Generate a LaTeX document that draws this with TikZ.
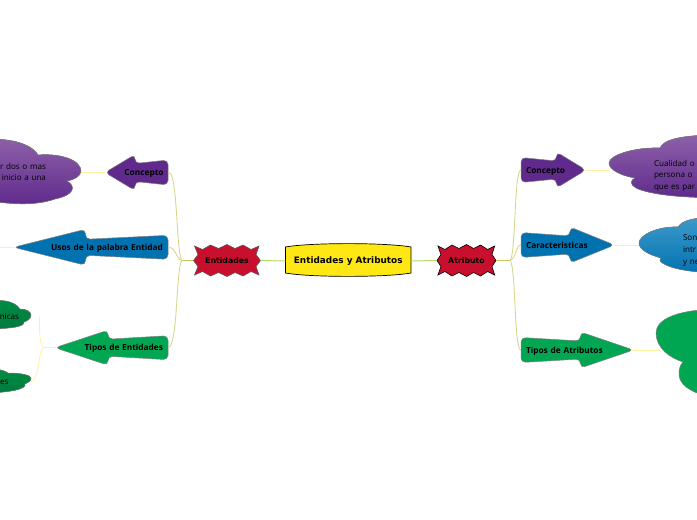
\documentclass[tikz,border=0pt]{standalone}
\usepackage{fontspec}
\setmainfont{Open Sans}
\newfontfamily\starfont{DejaVu Sans}
\definecolor{moradoA}{HTML}{5F2A8C}
\definecolor{moradoB}{HTML}{8E62AA}
\definecolor{azulA}{HTML}{0072B0}
\definecolor{azulB}{HTML}{3F9BCB}
\definecolor{verdeA}{HTML}{00A651}
\definecolor{verdeB}{HTML}{007A3D}
\definecolor{rojoA}{HTML}{C8102E}
\definecolor{amarilloA}{HTML}{FFE714}
\definecolor{lineaA}{HTML}{B5D96A}
\definecolor{lineaB}{HTML}{C9C765}
\definecolor{lineaC}{HTML}{D8D78F}
\definecolor{lineaD}{HTML}{FFF0A0}
\newcommand{\lowered}[1]{\raisebox{-3pt}[0pt][0pt]{#1}}
\tikzset{
  every node/.style={inner ysep=0pt},
  arrowtag/.style={font=\bfseries\fontsize{8.3}{10}\selectfont, inner xsep=5pt, text=black},
  cloudtag/.style={font=\fontsize{8.1}{11.6}\selectfont, text=black},
  startag/.style={font=\starfont\bfseries\fontsize{7.8}{9}\selectfont, text=black},
  shapeline/.style={draw=black!50, line width=.5pt},
  stemlink/.style={draw=lineaB, line width=1.3pt},
  twiglink/.style={draw=lineaC, line width=.9pt},
  leaflink/.style={draw=lineaD, line width=1pt}
}
\newcommand{\arrowshape}[8]{
  \filldraw[shapeline, fill=#1, rounded corners=4.5pt]
    (#4,#5) -- (#3,#5-#8) -- (#3,#5-#7) -- (#2,#5-#6) -- (#2,#5+#6)
    -- (#3,#5+#7) -- (#3,#5+#8) -- cycle;
}
\newcommand{\starshape}[5]{
  \filldraw[draw=#4, line width=.6pt, fill=rojoA, shift={(#1,#2)}, xscale=#3]
    (-33.5,0) -- (-29,-6) -- (-32.5,-14.5) -- (-24.5,-11) -- (-16.5,-15.5) -- (-8.5,-12)
    -- (0,-16) -- (8,-12) -- (16,-15.5) -- (24,-11) -- (32,-14.5) -- (29,-6)
    -- (33.5,0) -- (29,6) -- (32,14.5) -- (24,11) -- (16,15.5) -- (8,12)
    -- (0,16) -- (-8.5,12) -- (-16.5,15.5) -- (-24.5,11) -- (-32.5,14.5) -- (-29,6) -- cycle;
}
\begin{document}
\begin{tikzpicture}[x=1pt,y=-1pt]
  \useasboundingbox (0,0) rectangle (697,520);
  \clip (0,0) rectangle (697,520);

  \filldraw[black, line width=.7pt, fill=amarilloA]
    (285.5,247) .. controls (310,242.5) and (386,242.5) .. (411,247) -- (411,273)
    .. controls (386,277.5) and (310,277.5) .. (285.5,273) -- cycle;
  \node[startag, font=\starfont\bfseries\fontsize{8.9}{10}\selectfont, minimum width=125.5pt, minimum height=33pt] (titulo) at (348.25,261) {Entidades y Atributos};

  \starshape{227}{260.5}{1}{black!65}{}
  \node[startag, minimum width=67pt, minimum height=32pt] (entidades) at (227,260.5) {Entidades};
  \starshape{466.5}{260.5}{.88}{black}{}
  \node[startag, minimum width=59pt, minimum height=32pt] (atributo) at (466.5,260.5) {Atributo};

  \arrowshape{moradoA}{168}{135}{105}{172.5}{12.5}{9}{18}
  \node[arrowtag, text width=53pt, align=right, minimum height=30pt] (conceptoIzq) at (137,172.5) {\lowered{Concepto}};
  \arrowshape{azulA}{168}{85.5}{13.5}{247.3}{12}{8}{18}
  \node[arrowtag, text width=143.5pt, align=right, minimum height=30pt] (usos) at (91.25,247.3) {\lowered{Usos de la palabra Entidad}};
  \arrowshape{verdeA}{168}{108}{55}{347.7}{12}{8.5}{17.5}
  \node[arrowtag, text width=101.5pt, align=right, minimum height=30pt] (tiposIzq) at (112.25,347.7) {\lowered{Tipos de Entidades}};

  \arrowshape{moradoA}{521}{556.5}{586}{170}{12.5}{9}{18}
  \node[arrowtag, text width=53.5pt, align=left, minimum height=30pt] (conceptoDer) at (552.75,170) {\lowered{Concepto}};
  \arrowshape{azulA}{521}{570}{614.5}{245}{12.5}{9}{18}
  \node[arrowtag, text width=82pt, align=left, minimum height=30pt] (caract) at (567,245) {\lowered{Caracteristicas}};
  \arrowshape{verdeA}{521}{580.5}{633.5}{350}{12.5}{9}{18}
  \node[arrowtag, text width=101pt, align=left, minimum height=30pt] (tiposDer) at (576.5,350) {\lowered{Tipos de Atributos}};

  \filldraw[shapeline, top color=moradoB, bottom color=moradoA]
    (-30,141) .. controls (0,136) and (30,141) .. (38,155)
    .. controls (60,153) and (81,160) .. (81,171)
    .. controls (81,176) and (74,180) .. (67,181)
    .. controls (76,186) and (75,195) .. (55,199)
    .. controls (35,206) and (10,205) .. (-30,198) -- cycle;
  \node[cloudtag, inner xsep=35pt, text width=51pt, align=right, minimum height=62pt] (nubeConcepto) at (20.5,172) {r dos o mas\\inicio a una};

  \filldraw[shapeline, top color=moradoB, bottom color=moradoA]
    (609,163) .. controls (609,155) and (635,147) .. (660,148)
    .. controls (663,140) and (680,134) .. (730,135) -- (730,197)
    .. controls (690,199) and (650,195) .. (636,188)
    .. controls (630,185) and (630,180) .. (635,178)
    .. controls (622,176) and (609,170) .. (609,163) -- cycle;
  \node[cloudtag, inner xsep=44pt, text width=60pt, align=left, minimum height=54pt] (nubeCualidad) at (684,175.5) {Cualidad o\\persona o\\que es par};

  \filldraw[shapeline, top color=azulB, bottom color=azulA]
    (639,243) .. controls (639,235) and (658,226) .. (678,227)
    .. controls (682,221) and (690,217) .. (730,216) -- (730,272)
    .. controls (700,274) and (675,270) .. (664,264)
    .. controls (660,262) and (659,260) .. (661,258)
    .. controls (650,255) and (639,250) .. (639,243) -- cycle;
  \node[cloudtag, inner xsep=44pt, text width=60pt, align=left, minimum height=54pt] (nubeCaract) at (713,250.5) {Son\\intr\\y ne};

  \filldraw[shapeline, fill=verdeA]
    (656,333) .. controls (656,320) and (675,308) .. (730,309) -- (730,400)
    .. controls (705,398) and (679,390) .. (679,374)
    .. controls (679,369) and (680,365) .. (683,362)
    .. controls (670,358) and (656,348) .. (656,333) -- cycle;
  \node[minimum width=40pt, minimum height=40pt] (nubeTipos) at (680,350) {};

  \filldraw[shapeline, top color=verdeA!85!black, bottom color=verdeB]
    (-20,302) .. controls (0,299) and (14,300) .. (20,309)
    .. controls (27,309) and (31,312) .. (31,315)
    .. controls (31,319) and (27,321) .. (24,322)
    .. controls (25,327) and (10,329) .. (-20,329) -- cycle;
  \node[cloudtag, inner xsep=20pt, text width=30pt, align=right, minimum height=20pt] (nubeUnicas) at (4,316.7) {\lowered{nicas}};

  \filldraw[shapeline, top color=verdeA!85!black, bottom color=verdeB]
    (-20,369) .. controls (-5,368) and (4,370) .. (8,373)
    .. controls (20,373) and (31,375) .. (31,378)
    .. controls (31,381) and (28,383) .. (25,384)
    .. controls (27,389) and (10,393) .. (-20,393) -- cycle;
  \node[cloudtag, inner xsep=22.5pt, text width=30pt, align=right, minimum height=20pt] (nubeComunes) at (-6.5,381.7) {\lowered{es}};

  \coordinate (hubIzq) at (182,260.5);
  \coordinate (hubDer) at (510,260.5);
  \coordinate (hubTipos) at (44,347.7);
  \coordinate (usosFin) at (0,247.3);

  \draw[draw=lineaA, line width=1pt] (titulo.west) -- (entidades.east);
  \draw[draw=lineaA, line width=1pt] (titulo.east) -- (atributo.west);
  \draw[stemlink] (entidades.west) -- (hubIzq);
  \draw[stemlink] (atributo.east) -- (hubDer);

  \draw[twiglink] (hubIzq) .. controls (176,255) and (178,172) .. (conceptoIzq.east);
  \draw[twiglink] (hubIzq) .. controls (176,259) and (176,247) .. (usos.east);
  \draw[twiglink] (hubIzq) .. controls (176,266) and (178,347) .. (tiposIzq.east);
  \draw[twiglink] (hubDer) .. controls (516,255) and (514,170) .. (conceptoDer.west);
  \draw[twiglink] (hubDer) .. controls (516,259) and (516,245) .. (caract.west);
  \draw[twiglink] (hubDer) .. controls (516,266) and (514,350) .. (tiposDer.west);

  \draw[leaflink] (conceptoIzq.west) -- (conceptoIzq.west -| nubeConcepto.east);
  \draw[leaflink] (usos.west) -- (usosFin);
  \draw[leaflink] (tiposIzq.west) -- (hubTipos);
  \draw[leaflink, line width=.7pt] (hubTipos) .. controls (38,346) and (40,316) .. (nubeUnicas.east);
  \draw[leaflink, line width=.7pt] (hubTipos) .. controls (38,349) and (40,378) .. (nubeComunes.east);
  \draw[leaflink] (conceptoDer.east) -- (conceptoDer.east -| nubeCualidad.west);
  \draw[leaflink] (caract.east) -- (caract.east -| nubeCaract.west);
  \draw[leaflink] (tiposDer.east) -- (nubeTipos.west);
\end{tikzpicture}
\end{document}
